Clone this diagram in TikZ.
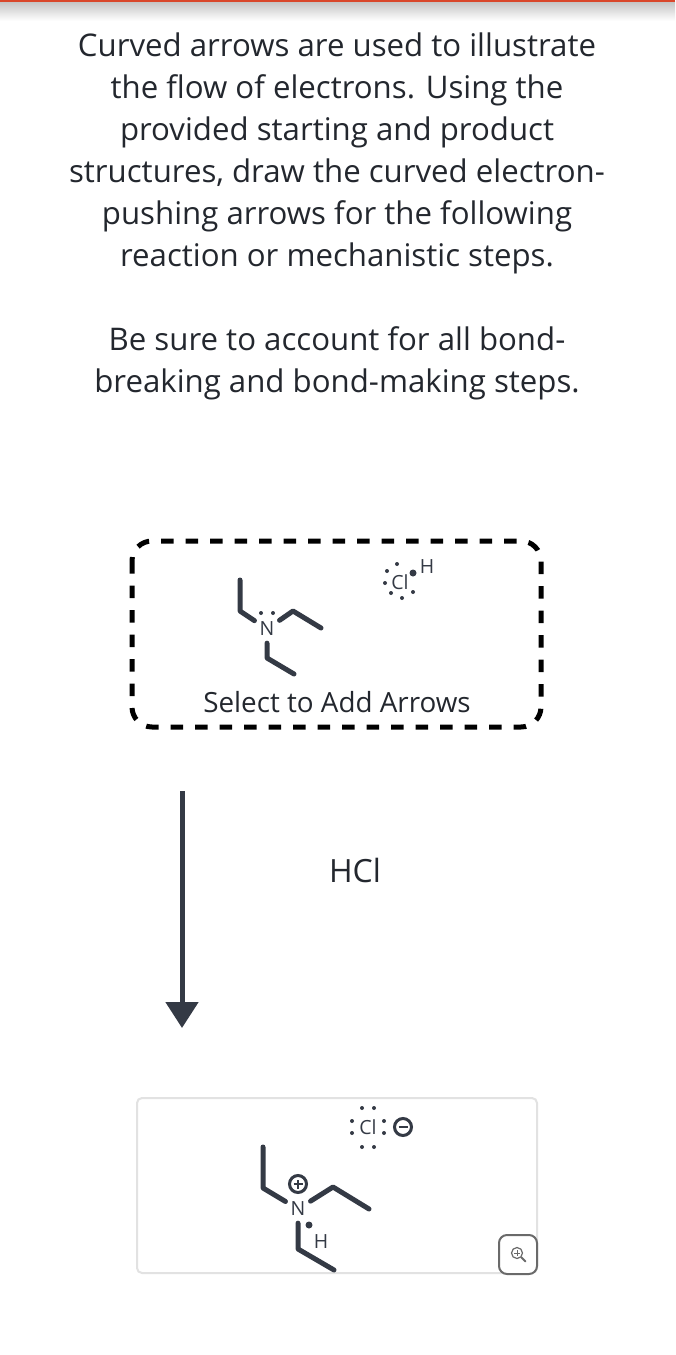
\documentclass[tikz,border=0pt]{standalone}
\usepackage{fontspec}
\setmainfont{Open Sans}
\usetikzlibrary{arrows.meta}
\definecolor{inkdark}{HTML}{343A45}
\definecolor{bodytext}{HTML}{23272E}
\definecolor{paneledge}{HTML}{E2E2E2}
\definecolor{zoomedge}{HTML}{6A6A6A}
\definecolor{topline}{HTML}{D9472B}
\tikzset{
	prose/.style={text=bodytext, align=center, inner sep=0pt, font=\fontsize{31.2}{42}\selectfont},
	atomlabel/.style={text=inkdark, inner sep=5pt, font=\fontsize{19.5}{20}\selectfont},
	bond/.style={draw=inkdark, line width=5pt, line cap=round, line join=round},
	elecdot/.style={fill=inkdark, circle, inner sep=0pt, minimum size=4pt},
	charge/.style={draw=inkdark, circle, line width=3pt, inner sep=0pt, minimum size=17pt},
	chargemark/.style={draw=inkdark, line width=2.6pt}
}
\begin{document}
\begin{tikzpicture}[x=1pt, y=-1pt]
	\useasboundingbox (0,0) rectangle (675,1355);
	\fill[white] (0,0) rectangle (675,1355);
	\shade[top color=black!24, bottom color=white] (0,1) rectangle (675,21);
	\fill[topline] (0,0) rectangle (675,1.5);

	\node[prose] (intro) at (337,153) {Curved arrows are used to illustrate\\the flow of electrons. Using the\\provided starting and product\\structures, draw the curved electron-\\pushing arrows for the following\\reaction or mechanistic steps.};
	\node[prose] (reminder) at (337,363) {Be sure to account for all bond-\\breaking and bond-making steps.};

	\draw[black, line width=5pt, rounded corners=20pt, dash pattern=on 12.5pt off 12pt] (132,541) rectangle (541,727);
	\node[text=bodytext, inner sep=0pt, font=\fontsize{27.8}{30}\selectfont] (addarrows) at (337,702) {Select to Add Arrows};

	\node[atomlabel] (startN) at (267,629) {N};
	\coordinate (startA1) at (240,580);
	\coordinate (startA2) at (240,611);
	\coordinate (startB1) at (321,628);
	\coordinate (startB2) at (293,611);
	\coordinate (startC1) at (294,674);
	\coordinate (startC2) at (267,658);
	\draw[bond] (startA1) -- (startA2) -- (startN);
	\draw[bond] (startB1) -- (startB2) -- (startN);
	\draw[bond, shorten >=2pt] (startC1) -- (startC2) -- (startN);
	\foreach \px/\py in {261/613, 273/613}
		\node[elecdot] at (\px,\py) {};

	\node[atomlabel, inner sep=0pt] (startCl) at (400,582) {Cl};
	\node[atomlabel, inner sep=0pt] (startH) at (427,567) {H};
	\node[fill=inkdark, circle, inner sep=0pt, minimum size=7pt] (startClH) at (413,573) {};
	\foreach \px/\py in {387/571, 397/564, 385/583, 391/593, 402/598, 413/592}
		\node[elecdot] at (\px,\py) {};

	\coordinate (flowTop) at (182,791);
	\coordinate (flowTip) at (182,1028);
	\draw[inkdark, line width=5pt, -{Triangle[width=32pt, length=26pt]}] (flowTop) -- (flowTip);
	\node[text=bodytext, inner sep=0pt, font=\fontsize{32}{34}\selectfont] (reagent) at (355,870) {HCl};

	\draw[paneledge, line width=2pt, rounded corners=5pt] (137,1098) rectangle (537,1273);

	\node[atomlabel, inner sep=5pt] (endN) at (298,1209) {N};
	\coordinate (endA1) at (263,1147);
	\coordinate (endA2) at (263,1188);
	\coordinate (endB1) at (369,1209);
	\coordinate (endB2) at (333,1187);
	\coordinate (endC1) at (334,1270);
	\coordinate (endC2) at (298,1249);
	\draw[bond] (endA1) -- (endA2) -- (endN);
	\draw[bond] (endB1) -- (endB2) -- (endN);
	\draw[bond, shorten >=2pt] (endC1) -- (endC2) -- (endN);
	\node[charge] (endPlus) at (298,1184) {};
	\draw[chargemark] ([xshift=-4.5pt]endPlus.center) -- ([xshift=4.5pt]endPlus.center);
	\draw[chargemark] ([yshift=-4.5pt]endPlus.center) -- ([yshift=4.5pt]endPlus.center);
	\node[fill=inkdark, circle, inner sep=0pt, minimum size=7pt] (endNH) at (309,1225) {};
	\node[atomlabel, inner sep=0pt] (endH) at (321,1242) {H};

	\node[atomlabel, inner sep=0pt] (endCl) at (368,1127) {Cl};
	\foreach \px/\py in {362/1108, 374/1108, 362/1147, 374/1147, 352/1121, 352/1133, 384/1121, 384/1133}
		\node[elecdot] at (\px,\py) {};
	\node[charge] (endMinus) at (403,1127) {};
	\draw[chargemark] ([xshift=-4.5pt]endMinus.center) -- ([xshift=4.5pt]endMinus.center);

	\draw[zoomedge, fill=white, line width=2pt, rounded corners=8pt] (499,1235) rectangle (537,1274);
	\node[draw=zoomedge, circle, line width=1.2pt, inner sep=0pt, minimum size=11pt] (lens) at (517,1253) {};
	\coordinate (lensEnd) at (525.5,1261.5);
	\draw[zoomedge, line width=2pt, line cap=round] (lens) -- (lensEnd);
	\draw[zoomedge, line width=0.9pt] ([xshift=-2.8pt]lens.center) -- ([xshift=2.8pt]lens.center);
	\draw[zoomedge, line width=0.9pt] ([yshift=-2.8pt]lens.center) -- ([yshift=2.8pt]lens.center);
\end{tikzpicture}
\end{document}
